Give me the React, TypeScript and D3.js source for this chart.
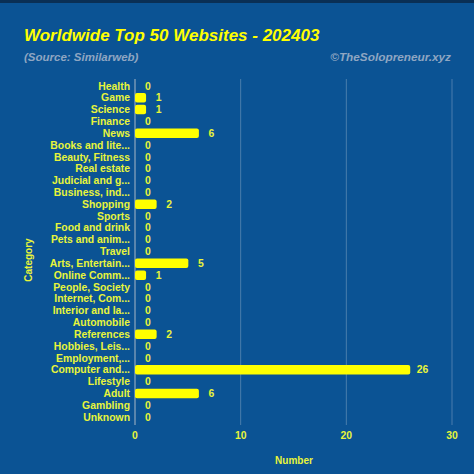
import React from "react";
import * as d3 from "d3";

const categories = [
  "Health", "Game", "Science", "Finance", "News", "Books and lite...", "Beauty, Fitness",
  "Real estate", "Judicial and g...", "Business, ind...", "Shopping", "Sports", "Food and drink",
  "Pets and anim...", "Travel", "Arts, Entertain...", "Online Comm...", "People, Society",
  "Internet, Com...", "Interior and la...", "Automobile", "References", "Hobbies, Leis...",
  "Employment,...", "Computer and...", "Lifestyle", "Adult", "Gambling", "Unknown",
];
const counts = [0, 1, 1, 0, 6, 0, 0, 0, 0, 0, 2, 0, 0, 0, 0, 5, 1, 0, 0, 0, 0, 2, 0, 0, 26, 0, 6, 0, 0];
const xTicks = [0, 10, 20, 30];

const font = "Arial, 'Liberation Sans', sans-serif";
const yellow = "#ffff00";
const labelYellow = "#e8f53a";

export default function App() {
  const x = d3.scaleLinear().domain([0, 30]).range([135, 452]);
  const y = d3.scaleBand().domain(categories).range([80, 423]).paddingInner(0.2).paddingOuter(0.1);

  return (
    <svg
      width={474}
      height={474}
      style={{ position: "absolute", left: 0, top: 0, display: "block" }}
      fontFamily={font}
    >
      <rect width={474} height={474} fill="#0b5394" />
      <rect width={474} height={3} fill="#0a2f55" />
      <text x={24} y={41} fontSize={17} fontWeight="bold" fontStyle="italic" fill={yellow}>
        Worldwide Top 50 Websites - 202403
      </text>
      <text x={24} y={61} fontSize={11.5} fontWeight="bold" fontStyle="italic" fill="#8fa6c2">
        (Source: Similarweb)
      </text>
      <text x={451} y={61} fontSize={11.8} fontWeight="bold" fontStyle="italic" fill="#8fa6c2" textAnchor="end">
        ©TheSolopreneur.xyz
      </text>

      {xTicks.map((t) => (
        <g key={t}>
          <line
            x1={x(t)}
            x2={x(t)}
            y1={79}
            y2={425}
            stroke={t === 0 ? "#a9b8c6" : "#4a7dad"}
            strokeWidth={1}
          />
          <text x={x(t)} y={439} fontSize={10.4} fontWeight="bold" fill={labelYellow} textAnchor="middle">
            {t}
          </text>
        </g>
      ))}

      {categories.map((c, i) => {
        const cy = y(c)! + y.bandwidth() / 2;
        return (
          <g key={c}>
            <text x={130} y={cy} dy="0.35em" fontSize={10.4} fontWeight="bold" fill={labelYellow} textAnchor="end">
              {c}
            </text>
            {counts[i] > 0 && (
              <rect
                x={x(0)}
                y={y(c)!}
                width={x(counts[i]) - x(0) + 0.5}
                height={y.bandwidth()}
                rx={2}
                fill={yellow}
              />
            )}
            <text
              x={x(counts[i]) + 13}
              y={cy}
              dy="0.35em"
              fontSize={10.4}
              fontWeight="bold"
              fill={labelYellow}
              textAnchor={counts[i] > 9 ? "start" : "middle"}
              dx={counts[i] > 9 ? -6 : 0}
            >
              {counts[i]}
            </text>
          </g>
        );
      })}

      <text
        transform="translate(32,260) rotate(-90)"
        fontSize={10}
        fontWeight="bold"
        fill={labelYellow}
        textAnchor="middle"
      >
        Category
      </text>
      <text x={294} y={464} fontSize={10} fontWeight="bold" fill={labelYellow} textAnchor="middle">
        Number
      </text>
    </svg>
  );
}
